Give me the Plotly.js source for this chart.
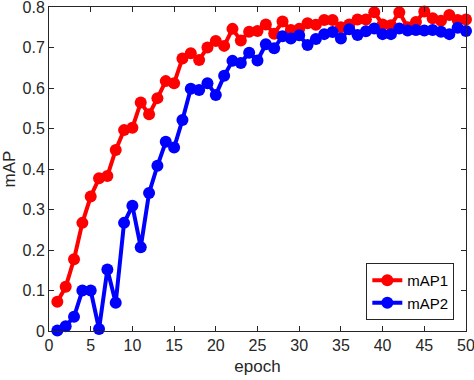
<!DOCTYPE html>
<html>
<head>
<meta charset="utf-8">
<script src="https://cdn.plot.ly/plotly-3.0.1.min.js"></script>
<style>html,body{margin:0;padding:0;background:#fff;}#chart{width:474px;height:380px;}</style>
</head>
<body>
<div id="chart"></div>
<script>
const epochs = [1,2,3,4,5,6,7,8,9,10,11,12,13,14,15,16,17,18,19,20,21,22,23,24,25,26,27,28,29,30,31,32,33,34,35,36,37,38,39,40,41,42,43,44,45,46,47,48,49,50];
const map1 = [0.072,0.109,0.177,0.267,0.332,0.377,0.383,0.447,0.496,0.502,0.564,0.535,0.575,0.617,0.612,0.673,0.686,0.669,0.700,0.716,0.704,0.746,0.717,0.739,0.741,0.757,0.734,0.764,0.743,0.746,0.760,0.756,0.768,0.768,0.750,0.757,0.769,0.769,0.787,0.757,0.755,0.787,0.750,0.763,0.789,0.772,0.766,0.780,0.768,0.769];
const map2 = [0.001,0.012,0.035,0.100,0.100,0.005,0.152,0.070,0.267,0.309,0.207,0.341,0.408,0.467,0.453,0.521,0.598,0.595,0.612,0.583,0.630,0.667,0.662,0.687,0.668,0.708,0.698,0.728,0.722,0.730,0.706,0.721,0.733,0.738,0.722,0.745,0.731,0.740,0.747,0.733,0.733,0.747,0.742,0.743,0.742,0.743,0.739,0.733,0.749,0.741];
const seriesNames = ['mAP1','mAP2'];
const xTicks = [0,5,10,15,20,25,30,35,40,45,50];
const yTicks = [0,0.1,0.2,0.3,0.4,0.5,0.6,0.7,0.8];
const yTickText = ['0','0.1','0.2','0.3','0.4','0.5','0.6','0.7','0.8'];

const fam = 'Liberation Sans, Arial, sans-serif';
const font = {family: fam, size: 16, color: '#262626'};
const traces = [
  {x: epochs, y: map1, name: seriesNames[0], mode: 'lines+markers', cliponaxis: false,
   line: {color: '#ff0000', width: 4}, marker: {color: '#ff0000', size: 12}},
  {x: epochs, y: map2, name: seriesNames[1], mode: 'lines+markers', cliponaxis: false,
   line: {color: '#0000ff', width: 4}, marker: {color: '#0000ff', size: 12}}
];
const axisCommon = {showgrid: false, zeroline: false, showline: true, linecolor: '#262626', linewidth: 1,
  mirror: 'ticks', ticks: 'inside', ticklen: 5, tickcolor: '#262626', tickfont: font,
  ticklabeloverflow: 'allow'};
const layout = {
  width: 474, height: 380,
  margin: {l: 49, r: 8, t: 7, b: 49},
  paper_bgcolor: '#fff', plot_bgcolor: '#fff',
  font: font,
  xaxis: Object.assign({}, axisCommon, {range: [0, 50], tickvals: xTicks, ticktext: xTicks.map(String),
    title: {text: 'epoch', font: {family: fam, size: 17, color: '#262626'}, standoff: 6}}),
  yaxis: Object.assign({}, axisCommon, {range: [0, 0.8], tickvals: yTicks, ticktext: yTickText,
    title: {text: 'mAP', font: {family: fam, size: 17, color: '#262626'}, standoff: 4}}),
  showlegend: true,
  legend: {x: 0.972, y: 0.034, xanchor: 'right', yanchor: 'bottom', bgcolor: '#fff',
    bordercolor: '#262626', borderwidth: 1, font: {family: fam, size: 15, color: '#000'},
    tracegroupgap: 0, itemwidth: 30}
};
Plotly.newPlot('chart', traces, layout, {displayModeBar: false, staticPlot: true});
</script>
</body>
</html>
